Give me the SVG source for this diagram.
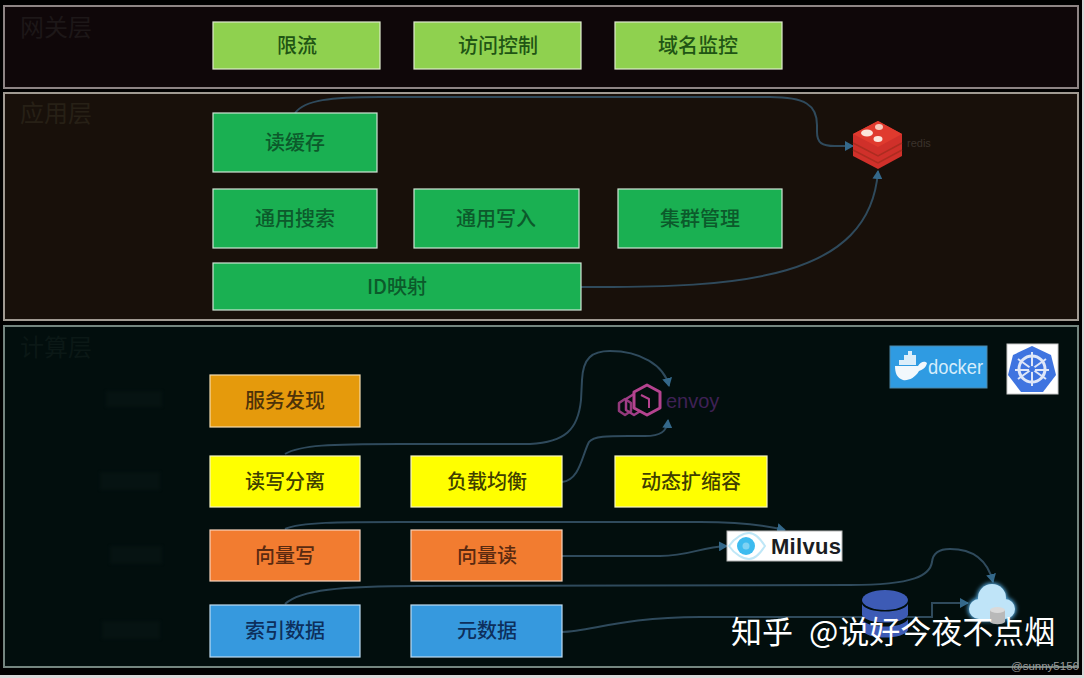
<svg xmlns="http://www.w3.org/2000/svg" width="1084" height="678" viewBox="0 0 1084 678">
<style>
.cjk{font-family:"Noto Sans CJK SC","Liberation Sans",sans-serif}
.box{stroke-width:1.200}
.lbl{font-family:"Noto Sans CJK SC","Liberation Sans",sans-serif;font-size:20px;font-weight:500;text-anchor:middle;dominant-baseline:central}
.lime rect{fill:#8fd14f;stroke:#dfeccf}.lime text{fill:#1f5514}
.green rect{fill:#1ab052;stroke:#cfe6d6}.green text{fill:#0c5a2b}
.amber rect{fill:#e59a0c;stroke:#f5dcae}.amber text{fill:#4d3208}
.yellow rect{fill:#ffff00;stroke:#f8f6c0}.yellow text{fill:#403f00}
.orange rect{fill:#f27c30;stroke:#f8d4bc}.orange text{fill:#5a2a10}
.blue rect{fill:#3699de;stroke:#bfdcf2}.blue text{fill:#0d2f5c}
.panel{stroke-width:2}
.title{font-family:"Noto Sans CJK SC","Liberation Sans",sans-serif;font-size:24px}
.smudge{fill:#061312}
.conn{fill:none;stroke:#2f4a5c;stroke-width:2}
</style>
<defs>
<marker id="arr" markerWidth="10" markerHeight="10" refX="8" refY="5" orient="auto" markerUnits="userSpaceOnUse"><path d="M0 0L9 5L0 10Z" fill="#34688a"/></marker>
<filter id="glow" x="-30%" y="-30%" width="160%" height="160%"><feGaussianBlur stdDeviation="2"/></filter>
<filter id="soft" x="-10%" y="-30%" width="120%" height="160%" color-interpolation-filters="sRGB"><feGaussianBlur stdDeviation="1.5"/></filter>
</defs>
<rect width="1084" height="678" fill="#000"/>
<rect x="1082" y="0" width="2" height="678" fill="#d8d8d8"/>
<rect x="0" y="675" width="1084" height="3" fill="#d8d8d8"/>

<g id="panel-gateway"><rect class="panel" x="4" y="6" width="1074" height="82" fill="#0f0709" stroke="#8d8484"/><text class="title" x="20" y="36" fill="#1d1718">网关层</text></g>
<g id="panel-app"><rect class="panel" x="4" y="93" width="1074" height="227" fill="#18100a" stroke="#a09a92"/><text class="title" x="20" y="122" fill="#272016">应用层</text></g>
<g id="panel-compute"><rect class="panel" x="4" y="326" width="1074" height="341" fill="#020e0d" stroke="#74857f"/><text class="title" x="20" y="356" fill="#0b1816">计算层</text>
<g filter="url(#soft)"><rect class="smudge" x="106" y="391" width="56" height="16"/><rect class="smudge" x="100" y="472" width="60" height="18"/><rect class="smudge" x="110" y="546" width="52" height="18"/><rect class="smudge" x="102" y="621" width="58" height="18"/></g></g>

<g id="connectors">
<path class="conn" marker-end="url(#arr)" d="M295 113C305 100 330 97 380 97L770 97C805 97 817 105 817 125L817 132C817 143 822 146 835 146L853 146"/>
<path class="conn" marker-end="url(#arr)" d="M581 287C740 288 870 280 878 171"/>
<path class="conn" marker-end="url(#arr)" d="M285 454C300 445 330 444 400 444L530 444C565 442 578 430 581 400L582 380C583 358 592 351 610 351C640 351 664 365 669 386"/>
<path class="conn" marker-end="url(#arr)" d="M562 482C580 480 582 455 589 442C594 435 610 436 645 436C660 436 667 432 668 420"/>
<path class="conn" marker-end="url(#arr)" d="M285 529C300 522 340 522 400 522L700 522C740 522 765 525 785 530"/>
<path class="conn" marker-end="url(#arr)" d="M562 556L660 556C690 556 700 547 727 546"/>
<path class="conn" marker-end="url(#arr)" d="M285 604C300 590 340 586 420 586L850 585C915 585 930 575 932 562C933 552 940 549 950 549C975 549 988 562 993 582"/>
<path class="conn" marker-end="url(#arr)" d="M562 632C590 632 620 617 700 617L932 617L932 603L968 603"/>
</g>

<g id="n-xianliu" class="lime"><rect class="box" x="213" y="22" width="167" height="47"/><text class="lbl" x="297" y="44">限流</text></g>
<g id="n-fangwen" class="lime"><rect class="box" x="414" y="22" width="167" height="47"/><text class="lbl" x="498" y="44">访问控制</text></g>
<g id="n-yuming" class="lime"><rect class="box" x="615" y="22" width="167" height="47"/><text class="lbl" x="698" y="44">域名监控</text></g>

<g id="n-duhuancun" class="green"><rect class="box" x="213" y="113" width="164" height="59"/><text class="lbl" x="295" y="141">读缓存</text></g>
<g id="n-sousuo" class="green"><rect class="box" x="213" y="189" width="164" height="59"/><text class="lbl" x="295" y="217">通用搜索</text></g>
<g id="n-xieru" class="green"><rect class="box" x="414" y="189" width="165" height="59"/><text class="lbl" x="496" y="217">通用写入</text></g>
<g id="n-jiqun" class="green"><rect class="box" x="618" y="189" width="164" height="59"/><text class="lbl" x="700" y="217">集群管理</text></g>
<g id="n-idmap" class="green"><rect class="box" x="213" y="263" width="368" height="47"/><text class="lbl" x="397" y="285">ID映射</text></g>

<g id="n-fuwu" class="amber"><rect class="box" x="210" y="375" width="150" height="52"/><text class="lbl" x="285" y="399">服务发现</text></g>
<g id="n-duxie" class="yellow"><rect class="box" x="210" y="456" width="150" height="51"/><text class="lbl" x="285" y="480">读写分离</text></g>
<g id="n-fuzai" class="yellow"><rect class="box" x="411" y="456" width="151" height="51"/><text class="lbl" x="487" y="480">负载均衡</text></g>
<g id="n-kuosuo" class="yellow"><rect class="box" x="615" y="456" width="152" height="51"/><text class="lbl" x="691" y="480">动态扩缩容</text></g>
<g id="n-vwrite" class="orange"><rect class="box" x="210" y="530" width="150" height="51"/><text class="lbl" x="285" y="554">向量写</text></g>
<g id="n-vread" class="orange"><rect class="box" x="411" y="530" width="151" height="51"/><text class="lbl" x="487" y="554">向量读</text></g>
<g id="n-index" class="blue"><rect class="box" x="210" y="605" width="150" height="52"/><text class="lbl" x="285" y="629">索引数据</text></g>
<g id="n-meta" class="blue"><rect class="box" x="411" y="605" width="151" height="52"/><text class="lbl" x="487" y="629">元数据</text></g>

<g id="n-redis">
<path d="M878 121L902 134V156L878 169L853 156V134Z" fill="#d0302a"/>
<path d="M878 121L902 134L878 147L853 134Z" fill="#e03a2e"/>
<path d="M853 143L878 156L902 143M853 150L878 163L902 150" fill="none" stroke="#ac2c20" stroke-width="1.500"/>
<ellipse cx="867" cy="133" rx="6" ry="3.500" fill="#fbe6dc"/><ellipse cx="878" cy="139" rx="4.500" ry="3" fill="#fbe6dc"/><ellipse cx="879" cy="127" rx="4" ry="3" fill="#f6c9bb"/>
<text x="907" y="147" font-family="Liberation Sans, sans-serif" font-size="11" fill="#3b332c">redis</text>
</g>

<g id="n-envoy" fill="none" stroke="#b4438f" stroke-width="3" stroke-linejoin="round">
<polygon points="625,399 631,403 631,411 625,415 619,411 619,403" stroke="#93397b" stroke-width="2.500"/>
<polygon points="634,394 642,399 642,410 634,415 626,410 626,399" stroke="#a03d87" stroke-width="2.500"/>
<polygon points="647,385 660,392 660,408 647,415 634,408 634,392" fill="#020e0d"/>
<path d="M641 395L649 399V408" stroke-width="2"/>
<text x="666" y="408" stroke="none" fill="#3f2155" font-family="Liberation Sans, sans-serif" font-size="20">envoy</text>
</g>

<g id="n-docker">
<rect x="890" y="346" width="97" height="42" fill="#2f9be2" stroke="#4f87a8"/>
<path d="M895 366H918C921 361 925 361 927 363C926 368 922 370 919 371C915 378 908 381 903 380C897 378 895 373 895 366Z" fill="#f2f8fc"/>
<path d="M899 360H916V365H899ZM904 355H916V360H904ZM908 351H912V355H908Z" fill="#dceefa"/>
<text x="928" y="374" fill="#d6edfb" font-family="Liberation Sans, sans-serif" font-size="20" textLength="55" lengthAdjust="spacingAndGlyphs">docker</text>
</g>

<g id="n-k8s">
<rect x="1007" y="344" width="51" height="50" fill="#fff" stroke="#c9c9c9"/>
<polygon points="1032,346 1051,355 1056,375 1043,392 1021,392 1008,375 1013,355" fill="#3f74e0"/>
<circle cx="1032" cy="369" r="13" fill="none" stroke="#dfe7f8" stroke-width="3"/>
<path d="M1032 352V386M1018 359L1046 379M1046 359L1018 379M1015 370H1049" stroke="#dfe7f8" stroke-width="2"/>
<circle cx="1032" cy="369" r="3" fill="#3f74e0"/>
</g>

<g id="n-milvus">
<rect x="727" y="531" width="115" height="30" fill="#fff" stroke="#b5b5b5"/>
<path d="M729 546C735 537 744 533 749 533C756 533 761 540 765 546C761 552 756 559 749 559C744 559 735 555 729 546Z" fill="none" stroke="#bfe7f7" stroke-width="2"/>
<circle cx="746" cy="546" r="9" fill="#3dbbef"/><circle cx="746" cy="546" r="3.500" fill="#7fd2f3"/>
<text x="771" y="554" fill="#1b1d22" font-family="Liberation Sans, sans-serif" font-size="22" font-weight="700" textLength="70">Milvus</text>
</g>

<g id="n-db" fill="#3d5bb5">
<ellipse cx="885" cy="600" rx="23" ry="10"/>
<path d="M862 604C866 614 904 614 908 604V615C904 625 866 625 862 615Z"/>
<path d="M862 619C866 629 904 629 908 619V630C904 640 866 640 862 630Z"/>
</g>

<g id="n-cloud">
<g fill="#5ab4ee" filter="url(#glow)"><circle cx="992" cy="598" r="15"/><circle cx="979" cy="609" r="11"/><circle cx="1005" cy="609" r="11"/><rect x="979" y="606" width="26" height="15"/></g>
<g fill="#bfe4f8"><circle cx="992" cy="598" r="14"/><circle cx="979" cy="609" r="10"/><circle cx="1005" cy="609" r="10"/><rect x="979" y="606" width="26" height="14"/></g>
<path d="M990 610V622C993 625 1002 625 1005 622V610Z" fill="#b9b9b9"/><ellipse cx="997.500" cy="610" rx="7.500" ry="3" fill="#dadada"/>
</g>

<g id="watermark">
<text class="cjk" x="731" y="643" font-size="31" fill="#fff">知乎</text>
<text class="cjk" x="809" y="643" font-size="31" fill="#fff">@说好今夜不点烟</text>
<text x="1011" y="670" font-family="Liberation Sans, sans-serif" font-size="11.500" fill="#9a9a9a">@sunny5156</text>
</g>
</svg>
